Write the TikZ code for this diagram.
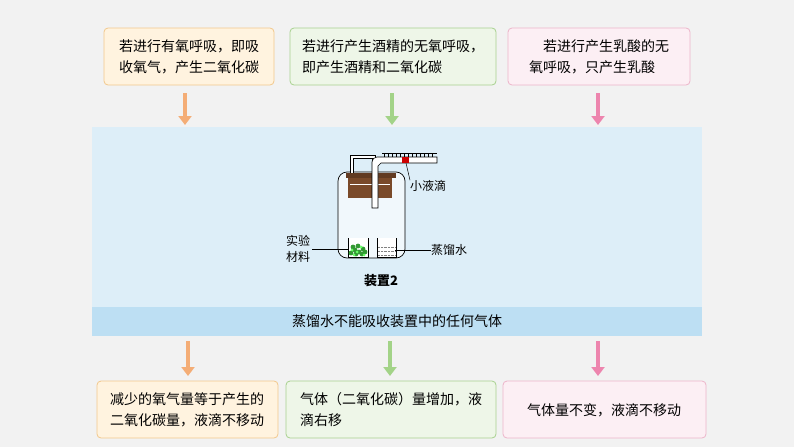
\documentclass[tikz,border=0pt]{standalone}
\usepackage{fontspec}
\setmainfont{Noto Sans CJK SC}
\usetikzlibrary{arrows.meta}
\definecolor{bg}{HTML}{F2F2F2}
\definecolor{panel}{HTML}{DDEEF8}
\definecolor{strip}{HTML}{BDDFF3}
\definecolor{ofill}{HTML}{FFF3DF}\definecolor{oline}{HTML}{F2C88C}\definecolor{oarr}{HTML}{F08A3C}
\definecolor{gfill}{HTML}{EEF6E8}\definecolor{gline}{HTML}{A8D18F}\definecolor{garr}{HTML}{8CC86A}
\definecolor{pfill}{HTML}{FCEFF4}\definecolor{pline}{HTML}{EDB5CA}\definecolor{parr}{HTML}{E9679A}
\definecolor{brown}{HTML}{7A4A2A}
\tikzset{
 tbox/.style={draw=#1line,fill=#1fill,rounded corners=4pt,line width=0.8pt,font=\fontsize{14}{21}\selectfont,align=left,inner sep=0pt},
 darr/.style={line width=4pt,-{Triangle[length=9pt,width=13pt]},draw=#1},
 lbl/.style={font=\fontsize{12}{16}\selectfont,inner sep=0pt}
}
\begin{document}
\begin{tikzpicture}[x=1pt,y=-1pt]
\fill[bg] (0,0) rectangle (794,447);
\useasboundingbox (0,0) rectangle (794,447);
% top boxes
\draw[tbox=o] (104,28) rectangle (274,85);
\node[tbox=o,draw=none] (t1) at (189,57) {若进行有氧呼吸，即吸\\收氧气，产生二氧化碳};
\draw[tbox=g] (290,28) rectangle (496,85);
\node[tbox=g,draw=none] (t2) at (393,57) {若进行产生酒精的无氧呼吸，\\即产生酒精和二氧化碳};
\draw[tbox=p] (508,28) rectangle (690,85);
\node[tbox=p,draw=none] (t3) at (599,57) {\hspace*{1em}若进行产生乳酸的无\\氧呼吸，只产生乳酸};
% panel
\fill[panel] (92,127) rectangle (702,307);
\fill[strip] (92,307) rectangle (702,336);
\node[font=\fontsize{14}{16}\selectfont] (s) at (397,321) {蒸馏水不能吸收装置中的任何气体};
% arrows
\coordinate (a1) at (185,93);\coordinate (b1) at (185,125);
\coordinate (a2) at (392,93);\coordinate (b2) at (392,125);
\coordinate (a3) at (598,93);\coordinate (b3) at (598,125);
\draw[darr=oarr!70] (a1)--(b1);\draw[darr=garr!80] (a2)--(b2);\draw[darr=parr!80] (a3)--(b3);
\coordinate (c1) at (188,341);\coordinate (d1) at (188,376);
\coordinate (c2) at (390,341);\coordinate (d2) at (390,376);
\coordinate (c3) at (598,341);\coordinate (d3) at (598,376);
\draw[darr=oarr!70] (c1)--(d1);\draw[darr=garr!80] (c2)--(d2);\draw[darr=parr!80] (c3)--(d3);
% bottom boxes
\draw[tbox=o] (97,381) rectangle (278,438);
\node[tbox=o,draw=none] (u1) at (187,410) {减少的氧气量等于产生的\\二氧化碳量，液滴不移动};
\draw[tbox=g] (286,381) rectangle (496,438);
\node[tbox=g,draw=none] (u2) at (391,410) {气体（二氧化碳）量增加，液\\滴右移};
\draw[tbox=p] (503,381) rectangle (706,438);
\node[tbox=p,draw=none] (u3) at (604,410) {气体量不变，液滴不移动};
% apparatus: bottle
\draw[line width=0.7pt,fill=panel!40!white,rounded corners=9pt] (338,172) rectangle (405,258);
% left U tube
\draw[line width=0.6pt,fill=white] (350,175) -- (350,155) -- (375,155) -- (375,175) -- (372,175) -- (372,158) -- (353,158) -- (353,175) -- cycle;
% stopper
\fill[brown!80!black] (346,173) rectangle (396,178);
\fill[brown] (348,178) rectangle (392,198);
\draw[white,line width=1pt] (350,184) -- (390,184);
% right tube
\draw[line width=0.6pt,fill=white] (372,208) -- (372,162) arc[start angle=180,end angle=270,radius=5] -- (437,157) -- (437,163) -- (381,163) -- (378,166) -- (378,208) -- cycle;
\foreach \i in {0,...,12} \draw[line width=0.4pt] (384+\i*4,157) -- (384+\i*4,153);
\draw[line width=0.4pt] (382,153) -- (437,153);
\fill[red!80!black] (402,157) rectangle (409,163);
\coordinate (dr) at (406,163);
\node[lbl,anchor=west] (xy) at (410,186) {小液滴};
\draw[line width=0.5pt] (dr) -- (xy.north west);
% beakers
\draw[line width=0.6pt,fill=white] (348,238) -- (348,257) -- (368,257) -- (368,238);
\foreach \x/\y in {351/253,355/250,359/252,363/249,353/247,358/246,362/254,356/254,365/252} \fill[green!50!black!80] (\x,\y) circle (2.4);
\foreach \x/\y in {352/250,357/252,361/247,364/255,354/255} \fill[green!60] (\x,\y) circle (1.5);
\draw[line width=0.6pt,fill=white] (377,238) -- (377,257) -- (396,257) -- (396,238);
\draw[densely dotted,gray] (378,247) -- (395,247) (378,251) -- (395,251) (378,255) -- (395,255);
\node[lbl,align=center] (sy) at (298,249) {实验\\材料};
\draw[line width=0.5pt] (sy.east) ++(2,0) -- (349,249);
\node[lbl,anchor=west] (zl) at (431,250) {蒸馏水};
\draw[line width=0.5pt] (395,250) -- (zl.west);
\node[font=\bfseries\fontsize{13}{15}\selectfont] (zz) at (381,281) {装置2};
\end{tikzpicture}
\end{document}
